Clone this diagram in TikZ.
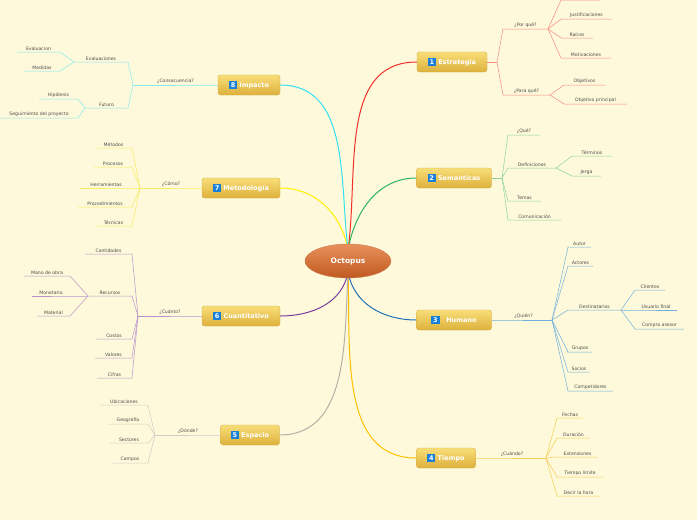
\documentclass[tikz,border=0pt]{standalone}
\usepackage{fontspec}
\setmainfont{DejaVu Sans}
\usetikzlibrary{shapes.geometric}
\definecolor{bg}{HTML}{FEF9DA}
\definecolor{cR}{HTML}{F0302A}\definecolor{lR}{HTML}{F48A80}
\definecolor{cG}{HTML}{2DB55D}\definecolor{lG}{HTML}{8AD49A}
\definecolor{cB}{HTML}{1F72B8}\definecolor{lB}{HTML}{6FB0DC}
\definecolor{cO}{HTML}{FFC000}\definecolor{lO}{HTML}{F7CC50}
\definecolor{cS}{HTML}{B5B0A8}\definecolor{lS}{HTML}{CFCCC4}
\definecolor{cP}{HTML}{7B3F9E}\definecolor{lP}{HTML}{B894CC}
\definecolor{cY}{HTML}{FFF200}\definecolor{lY}{HTML}{F5EC60}
\definecolor{cC}{HTML}{33E0F0}\definecolor{lC}{HTML}{86EAF2}
\definecolor{numb}{HTML}{1880D8}
\definecolor{gtop}{HTML}{F8DE78}\definecolor{gbot}{HTML}{DDB03C}\definecolor{gdr}{HTML}{D8B048}
\definecolor{otop}{HTML}{E8905A}\definecolor{obot}{HTML}{C05A22}
\tikzset{
 leaf/.style={font=\fontsize{4.6}{5}\selectfont, text=black!70, inner sep=1.2pt, anchor=south},
 mainn/.style={rounded corners=2.5pt, draw=gdr, top color=gtop, bottom color=gbot, text=white, font=\bfseries\fontsize{6.5}{7}\selectfont, minimum height=20pt, inner xsep=8pt},
 bl/.style={line width=0.5pt},
 mb/.style={line width=1pt}
}
\newcommand\nb[1]{{\setlength{\fboxsep}{1.8pt}\colorbox{numb}{\textcolor{white}{#1}}}}
\newcommand\lfR[7]{\coordinate (#1a) at (#3,#5); \coordinate (#1b) at (#4,#5);
 \node[leaf] (#1) at ({(#3+#4)/2},#5) {#2}; \draw[bl,#6] (#7) -- (#1a) -- (#1b);}
\newcommand\lfL[7]{\coordinate (#1a) at (#3,#5); \coordinate (#1b) at (#4,#5);
 \node[leaf] (#1) at ({(#3+#4)/2},#5) {#2}; \draw[bl,#6] (#7) -- (#1b) -- (#1a);}
\begin{document}
\begin{tikzpicture}[x=1pt,y=-1pt]
\fill[bg] (0,0) rectangle (697,520);
\useasboundingbox (0,0) rectangle (697,520);
\node[mainn, minimum width=70pt] (est) at (452,62) {\nb{1} Estrategia};
\node[mainn, minimum width=75pt] (sem) at (454,178) {\nb{2} Semanticas};
\node[mainn, minimum width=75pt] (hum) at (454,320) {\nb{3} \ \ Humano};
\node[mainn, minimum width=59pt] (tie) at (446,458) {\nb{4} Tiempo};
\node[mainn, minimum width=59pt] (esp) at (250,435) {\nb{5} Espacio};
\node[mainn, minimum width=78pt] (cua) at (241,316) {\nb{6} Cuantitativo};
\node[mainn, minimum width=78pt] (met) at (241,188) {\nb{7} Metodología};
\node[mainn, minimum width=62pt] (imp) at (249,85) {\nb{8} Impacto};
\coordinate (ot) at (348,250); \coordinate (ob) at (348,272);
\draw[cR,mb] (ot) to[out=82,in=180] (est.west);
\draw[cG,mb] (ot) to[out=80,in=180] (sem.west);
\draw[cB,mb] (ob) to[out=-80,in=180] (hum.west);
\draw[cO,mb] (ob) to[out=-88,in=180] (tie.west);
\draw[cS,mb] (ob) to[out=-93,in=0] (esp.east);
\draw[cP,mb] (ob) to[out=-100,in=0] (cua.east);
\draw[cY,mb] (ot) to[out=100,in=0] (met.east);
\draw[cC,mb] (ot) to[out=97,in=0] (imp.east);
\node[ellipse, minimum width=86pt, minimum height=34pt, draw=obot!80, top color=otop, bottom color=obot, text=white, font=\bfseries\fontsize{7.5}{8}\selectfont] (oct) at (348,261) {Octopus};
\coordinate (j1) at (497,62);
\draw[bl,lR] (est.east) -- (j1);
\lfR{pq}{¿Por qué?}{503}{548}{29}{lR}{j1}
\lfR{p0}{}{561}{600}{0}{lR}{pqb}
\lfR{just}{Justificaciones}{561}{612}{19}{lR}{pqb}
\lfR{rai}{Raíces}{561}{593}{38}{lR}{pqb}
\lfR{mot}{Motivaciones}{561}{611}{58}{lR}{pqb}
\lfR{paq}{¿Para qué?}{503}{550}{95}{lR}{j1}
\lfR{obj}{Objetivos}{564}{605}{85}{lR}{paqb}
\lfR{objp}{Objetivo principal}{564}{627}{104}{lR}{paqb}
\coordinate (j2) at (502,178);
\draw[bl,lG] (sem.east) -- (j2);
\lfR{que}{¿Qué?}{508}{540}{135}{lG}{j2}
\lfR{def}{Definiciones}{508}{556}{168}{lG}{j2}
\lfR{ter}{Términos}{572}{612}{156}{lG}{defb}
\lfR{jer}{Jerga}{572}{601}{176}{lG}{defb}
\lfR{tem}{Temas}{508}{541}{201}{lG}{j2}
\lfR{com}{Comunicación}{508}{561}{220}{lG}{j2}
\lfR{qui}{¿Quién?}{495}{552}{320}{lB}{hum.east}
\lfR{aut}{Autor}{568}{591}{247}{lB}{quib}
\lfR{act}{Actores}{568}{593}{266}{lB}{quib}
\lfR{des}{Destinatarios}{568}{621}{310}{lB}{quib}
\lfR{cli}{Clientes}{635}{665}{290}{lB}{desb}
\lfR{usu}{Usuario final}{635}{677}{310}{lB}{desb}
\lfR{cas}{Compra asesor}{635}{684}{329}{lB}{desb}
\lfR{gru}{Grupos}{568}{592}{352}{lB}{quib}
\lfR{soc}{Socios}{568}{590}{372}{lB}{quib}
\lfR{cpt}{Competidores}{568}{613}{391}{lB}{quib}
\lfR{cua2}{¿Cuándo?}{478}{546}{458}{lO}{tie.east}
\lfR{fec}{Fechas}{557}{583}{418}{lO}{cua2b}
\lfR{dur}{Duración}{557}{590}{438}{lO}{cua2b}
\lfR{ext}{Extensiones}{557}{598}{457}{lO}{cua2b}
\lfR{tli}{Tiempo límite}{557}{603}{477}{lO}{cua2b}
\lfR{dlh}{Decir la hora}{557}{600}{496}{lO}{cua2b}
\lfL{don}{¿Dónde?}{155}{221}{435}{lS}{esp.west}
\lfL{ubi}{Ubicaciones}{100}{148}{405}{lS}{dona}
\lfL{geo}{Geografía}{108}{148}{424}{lS}{dona}
\lfL{sec}{Sectores}{110}{148}{443}{lS}{dona}
\lfL{cam}{Campos}{112}{148}{463}{lS}{dona}
\lfL{cto}{¿Cuánto?}{138}{202}{316}{lP}{cua.west}
\lfL{can}{Cantidades}{85}{132}{254}{lP}{ctoa}
\lfL{rec}{Recursos}{88}{132}{296}{lP}{ctoa}
\lfL{mdo}{Mano de obra}{24}{70}{276}{lP}{reca}
\lfL{mon}{Monetario}{32}{70}{296}{lP}{reca}
\lfL{mat}{Material}{37}{70}{316}{lP}{reca}
\lfL{cos}{Costos}{96}{132}{339}{lP}{ctoa}
\lfL{val}{Valores}{95}{132}{358}{lP}{ctoa}
\lfL{cif}{Cifras}{97}{132}{378}{lP}{ctoa}
\lfL{com2}{¿Cómo?}{140}{202}{188}{lY}{met.west}
\lfL{mto}{Métodos}{95}{132}{148}{lY}{com2a}
\lfL{pro}{Procesos}{94}{132}{167}{lY}{com2a}
\lfL{her}{Herramientas}{80}{132}{188}{lY}{com2a}
\lfL{pmt}{Procedimientos}{78}{132}{207}{lY}{com2a}
\lfL{tec}{Técnicas}{95}{132}{226}{lY}{com2a}
\lfL{cns}{¿Consecuencia?}{133}{218}{85}{lC}{imp.west}
\lfL{eva}{Evaluaciones}{74}{128}{62}{lC}{cnsa}
\lfL{ev1}{Evaluacion}{17}{60}{52}{lC}{evaa}
\lfL{med}{Medidas}{24}{60}{71}{lC}{evaa}
\lfL{fut}{Futuro}{85}{128}{108}{lC}{cnsa}
\lfL{hip}{Hipótesis}{39}{78}{99}{lC}{futa}
\lfL{seg}{Seguimiento del proyecto}{0}{78}{118}{lC}{futa}
\end{tikzpicture}
\end{document}
